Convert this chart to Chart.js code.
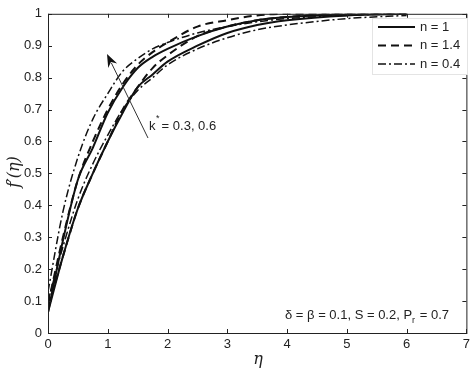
<!DOCTYPE html>
<html>
<head>
<meta charset="utf-8">
<script src="https://cdn.jsdelivr.net/npm/chart.js@4/dist/chart.umd.min.js"></script>
<style>
  html, body { margin: 0; padding: 0; background: #fff; }
  #wrap { width: 474px; height: 369px; position: relative; }
</style>
</head>
<body>
<div id="wrap"><canvas id="chart"></canvas></div>
<script>
const eta = [0, 0.25, 0.5, 0.75, 1, 1.25, 1.5, 1.75, 2, 2.5, 3, 3.5, 4, 5, 6];

// f'(eta) for k* = 0.3 (lower) and k* = 0.6 (upper)
const solidLow  = [0.065, 0.24, 0.39, 0.50, 0.60, 0.69, 0.77, 0.81, 0.85, 0.90, 0.94, 0.965, 0.98, 0.995, 1];
const solidHigh = [0.065, 0.29, 0.48, 0.58, 0.69, 0.77, 0.83, 0.865, 0.89, 0.93, 0.96, 0.98, 0.99, 0.998, 1];
const dashLow   = [0.08, 0.24, 0.39, 0.50, 0.60, 0.70, 0.77, 0.83, 0.87, 0.93, 0.96, 0.98, 0.99, 1, 1];
const dashHigh  = [0.09, 0.30, 0.48, 0.60, 0.70, 0.78, 0.84, 0.88, 0.91, 0.96, 0.98, 0.995, 1, 1, 1];
const ddLow     = [0.10, 0.27, 0.42, 0.53, 0.62, 0.70, 0.76, 0.80, 0.84, 0.89, 0.925, 0.95, 0.965, 0.985, 0.995];
const ddHigh    = [0.13, 0.38, 0.55, 0.67, 0.75, 0.82, 0.86, 0.89, 0.91, 0.94, 0.96, 0.975, 0.985, 0.995, 1];

const legendLabels = ['n = 1', 'n = 1.4', 'n = 0.4'];
const xTicks = [0, 1, 2, 3, 4, 5, 6, 7];
const yTicks = [0, 0.1, 0.2, 0.3, 0.4, 0.5, 0.6, 0.7, 0.8, 0.9, 1];

const styles = [
    { dash: [], width: 2 },
    { dash: [8, 5], width: 2 },
    { dash: [8, 3, 2, 3], width: 1.5 }
];

function pts(vals) {
    return vals.map((v, i) => ({ x: eta[i], y: v }));
}

function series(vals, s) {
    return {
        data: pts(vals),
        borderColor: '#111',
        borderWidth: s.width,
        borderDash: s.dash,
        pointRadius: 0,
        fill: false,
        cubicInterpolationMode: 'monotone'
    };
}

const FONT = '"Liberation Sans", Arial, sans-serif';

// box, inward ticks, legend, labels and annotations
const decor = {
    id: 'decor',
    afterDraw(chart) {
        const ctx = chart.ctx;
        const a = chart.chartArea;
        const xs = chart.scales.x, ys = chart.scales.y;
        ctx.save();
        ctx.strokeStyle = '#222';
        ctx.lineWidth = 1;
        ctx.strokeRect(a.left + 0.5, a.top + 0.5, a.right - a.left, a.bottom - a.top);
        ctx.beginPath();
        xTicks.forEach(t => {
            const px = Math.round(xs.getPixelForValue(t)) + 0.5;
            ctx.moveTo(px, a.bottom); ctx.lineTo(px, a.bottom - 4);
            ctx.moveTo(px, a.top); ctx.lineTo(px, a.top + 4);
        });
        yTicks.forEach(t => {
            const py = Math.round(ys.getPixelForValue(t)) + 0.5;
            ctx.moveTo(a.left, py); ctx.lineTo(a.left + 4, py);
            ctx.moveTo(a.right, py); ctx.lineTo(a.right - 4, py);
        });
        ctx.stroke();

        // legend
        const lx = 372, ly = 18, lw = 95, lh = 56;
        ctx.fillStyle = '#fff';
        ctx.fillRect(lx, ly, lw, lh);
        ctx.strokeStyle = '#e4e4e4';
        ctx.strokeRect(lx + 0.5, ly + 0.5, lw, lh);
        ctx.font = '13px ' + FONT;
        ctx.textBaseline = 'middle';
        ctx.textAlign = 'left';
        legendLabels.forEach((lab, i) => {
            const y = 27 + i * 18.5;
            ctx.beginPath();
            ctx.strokeStyle = '#111';
            ctx.lineWidth = styles[i].width;
            ctx.setLineDash(styles[i].dash);
            ctx.moveTo(378, y); ctx.lineTo(415, y);
            ctx.stroke();
            ctx.setLineDash([]);
            ctx.fillStyle = '#222';
            ctx.fillText(lab, 420, y);
        });

        // arrow for k*
        const tx = 148, ty = 138, hx = 107, hy = 54;
        const ang = Math.atan2(hy - ty, hx - tx);
        ctx.strokeStyle = '#333';
        ctx.lineWidth = 1;
        ctx.beginPath();
        ctx.moveTo(tx, ty);
        ctx.lineTo(hx - 10 * Math.cos(ang), hy - 10 * Math.sin(ang));
        ctx.stroke();
        ctx.fillStyle = '#111';
        ctx.beginPath();
        ctx.moveTo(hx, hy);
        ctx.lineTo(hx - 13 * Math.cos(ang) + 5 * Math.sin(ang), hy - 13 * Math.sin(ang) - 5 * Math.cos(ang));
        ctx.lineTo(hx - 9 * Math.cos(ang), hy - 9 * Math.sin(ang));
        ctx.lineTo(hx - 13 * Math.cos(ang) - 5 * Math.sin(ang), hy - 13 * Math.sin(ang) + 5 * Math.cos(ang));
        ctx.closePath();
        ctx.fill();

        ctx.fillStyle = '#222';
        ctx.font = '13px ' + FONT;
        ctx.fillText('k', 149, 126);
        ctx.font = '9px ' + FONT;
        ctx.fillText('*', 156, 119);
        ctx.font = '13px ' + FONT;
        ctx.fillText(' = 0.3, 0.6', 158, 126);

        // parameters
        const s1 = '\u03B4 = \u03B2 = 0.1, S = 0.2, P';
        ctx.fillText(s1, 285, 315);
        const w = ctx.measureText(s1).width;
        ctx.font = '9px ' + FONT;
        ctx.fillText('r', 285 + w, 321);
        ctx.font = '13px ' + FONT;
        ctx.fillText(' = 0.7', 285 + w + 4, 315);

        // axis titles
        ctx.font = 'italic 16px "DejaVu Serif", "Liberation Serif", serif';
        ctx.textAlign = 'center';
        ctx.fillText('\u03B7', 258, 360);
        ctx.translate(15, 172);
        ctx.rotate(-Math.PI / 2);
        ctx.fillText('f\u2032(\u03B7)', 0, 0);
        ctx.restore();
    }
};

new Chart(document.getElementById('chart'), {
    type: 'line',
    data: {
        datasets: [
            series(solidLow, styles[0]),
            series(solidHigh, styles[0]),
            series(dashLow, styles[1]),
            series(dashHigh, styles[1]),
            series(ddLow, styles[2]),
            series(ddHigh, styles[2])
        ]
    },
    options: {
        responsive: true,
        maintainAspectRatio: false,
        animation: false,
        layout: { padding: { top: 7, right: 6, left: 0, bottom: 0 } },
        plugins: { legend: { display: false }, tooltip: { enabled: false } },
        scales: {
            x: {
                type: 'linear', min: 0, max: 7,
                afterFit: s => { s.height = 36; },
                afterBuildTicks: s => { s.ticks = xTicks.map(v => ({ value: v })); },
                grid: { display: false, drawTicks: false },
                border: { display: false },
                ticks: { color: '#222', padding: 4, font: { family: FONT, size: 13 },
                         callback: v => String(v) }
            },
            y: {
                min: 0, max: 1,
                afterFit: s => { s.width = 48; },
                afterBuildTicks: s => { s.ticks = yTicks.map(v => ({ value: v })); },
                grid: { display: false, drawTicks: false },
                border: { display: false },
                ticks: { color: '#222', padding: 6, font: { family: FONT, size: 13 },
                         callback: v => String(Math.round(v * 10) / 10) }
            }
        }
    },
    plugins: [decor]
});
</script>
</body>
</html>
